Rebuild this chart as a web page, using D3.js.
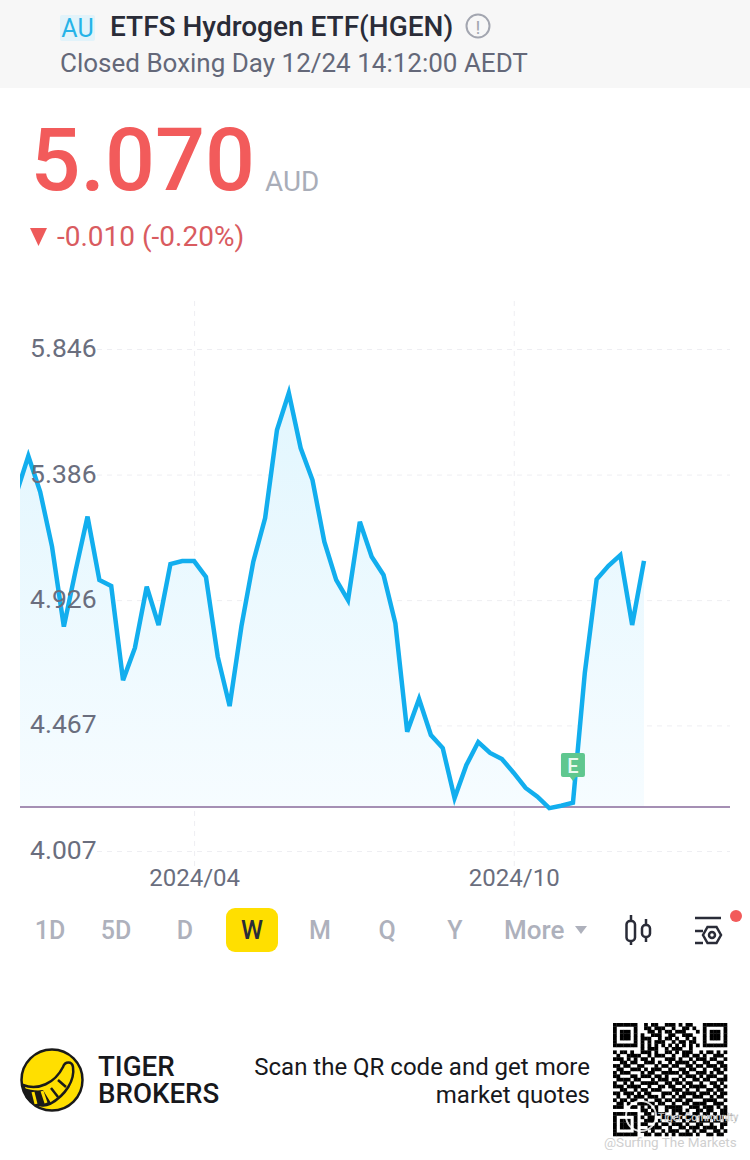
<!DOCTYPE html>
<html>
<head>
<meta charset="utf-8">
<script src="https://cdn.jsdelivr.net/npm/d3@7"></script>
<style>
  body { margin: 0; background: #fff; }
  svg { display: block; }
  text { font-family: Roboto, sans-serif; }
</style>
</head>
<body>
<div id="chart"></div>
<script>
// weekly bars, Monday of each week (the first one sits just off the left edge)
var weeks = [
  "2023-12-18","2023-12-25","2024-01-01","2024-01-08","2024-01-15","2024-01-22","2024-01-29","2024-02-05","2024-02-12",
  "2024-02-19","2024-02-26","2024-03-04","2024-03-11","2024-03-18","2024-03-25","2024-04-01","2024-04-08","2024-04-15",
  "2024-04-22","2024-04-29","2024-05-06","2024-05-13","2024-05-20","2024-05-27","2024-06-03","2024-06-10","2024-06-17",
  "2024-06-24","2024-07-01","2024-07-08","2024-07-15","2024-07-22","2024-07-29","2024-08-05","2024-08-12","2024-08-19",
  "2024-08-26","2024-09-02","2024-09-09","2024-09-16","2024-09-23","2024-09-30","2024-10-07","2024-10-14","2024-10-21",
  "2024-10-28","2024-11-04","2024-11-11","2024-11-18","2024-11-25","2024-12-02","2024-12-09","2024-12-16","2024-12-23"
];
var closes = [
  5.318,5.454,5.323,5.122,4.829,5.036,5.232,5.000,4.978,
  4.633,4.751,4.975,4.835,5.058,5.069,5.069,5.011,4.718,
  4.538,4.831,5.067,5.227,5.549,5.685,5.483,5.366,5.140,
  5.000,4.926,5.213,5.085,5.018,4.841,4.444,4.564,4.432,
  4.384,4.201,4.322,4.406,4.366,4.344,4.293,4.238,4.206,
  4.164,4.173,4.184,4.659,5.002,5.052,5.091,4.835,5.070
];
var priceTicks = [5.846, 5.386, 4.926, 4.467, 4.007];
var dateTicks = ["2024-04-01", "2024-10-07"];
var dateLabels = ["2024/04", "2024/10"];
var lowPrice = 4.168;
var earningsWeek = "2024-11-11";
var periods = ["1D", "5D", "D", "W", "M", "Q", "Y"];
var periodX = [50, 116, 185, 252, 320, 387, 455];
var qrRows = [
  "111111100101100111010110001111111",
  "100000100110111001001101001000001",
  "101110100011010110111000101011101",
  "101110101001110011001110001011101",
  "101110101110010110100101001011101",
  "100000101010111001011011001000001",
  "111111101010101010101010101111111",
  "000000001011100101110010000000000",
  "101101001110100110101110010110101",
  "010011110010111001001101101001110",
  "111010101101000111010010111011001",
  "001101100111010010111101001100110",
  "110110011000101101100110110111011",
  "011001110101110010011011001001101",
  "101110001011001111101100111010110",
  "110001101110110100010111010111001",
  "011110110001011101101001101100111",
  "100101001111100110110110010011010",
  "111011110010011011001011111001101",
  "001100101101110001110100100110110",
  "110111010110001110101111011101011",
  "010010111011101001011001110010110",
  "101101100100110110110110001111001",
  "011010011111011001001101111001110",
  "111001101010100111110011101110101",
  "000000001101100101110100110110011",
  "111111100110111001011001101101011",
  "100000101011001110110111010010110",
  "101110100111010011001011011101101",
  "101110101100101101110100110010011",
  "101110100011110010011011101111010",
  "100000101101001011100101011001101",
  "111111100110110101011110100110110"
];

var svg = d3.select("#chart").append("svg")
  .attr("width", 750)
  .attr("height", 1160);

function label(x, y, str, size, fill, weight, anchor) {
  return svg.append("text")
    .attr("x", x)
    .attr("y", y)
    .attr("font-size", size)
    .attr("fill", fill)
    .attr("font-weight", weight || 400)
    .attr("text-anchor", anchor || "start")
    .text(str);
}

// header
svg.append("rect").attr("width", 750).attr("height", 88).attr("fill", "#f7f7f7");
svg.append("rect").attr("x", 60).attr("y", 15).attr("width", 35).attr("height", 26).attr("rx", 2).attr("fill", "#e2f3fa");
label(77.5, 37, "AU", 25, "#25b3e8", 400, "middle");
label(110, 36, "ETFS Hydrogen ETF(HGEN)", 28, "#2a2c38", 500);
svg.append("circle").attr("cx", 478).attr("cy", 26).attr("r", 11.5).attr("fill", "none").attr("stroke", "#a3a6b0").attr("stroke-width", 2);
label(478, 34, "!", 19, "#a3a6b0", 400, "middle");
label(60, 72, "Closed Boxing Day 12/24 14:12:00 AEDT", 26, "#646879");

// quote
label(30.5, 189.5, "5.070", 88, "#f25b5b", 500);
label(265, 191, "AUD", 27.8, "#a9adb8");
svg.append("path").attr("d", "M30,228H47L38.5,246Z").attr("fill", "#ee5a5a");
label(57, 246, "-0.010 (-0.20%)", 28, "#d95b60");

// chart scales
var x = d3.scalePoint().domain(weeks).range([16.5, 644]);
var y = d3.scaleLinear().domain([4.007, 5.846]).range([851, 349]);

var defs = svg.append("defs");
var fade = defs.append("linearGradient").attr("id", "fade")
  .attr("gradientUnits", "userSpaceOnUse")
  .attr("x1", 0).attr("x2", 0).attr("y1", y(5.685)).attr("y2", y(lowPrice));
fade.append("stop").attr("offset", 0).attr("stop-color", "#e2f6fe");
fade.append("stop").attr("offset", 1).attr("stop-color", "#f6fcff");
defs.append("clipPath").attr("id", "plot").append("rect")
  .attr("x", 20).attr("y", 290).attr("width", 710).attr("height", 580);

// grid
var grid = svg.append("g");
var yGrid = grid.append("g")
  .attr("transform", "translate(97,0)")
  .call(d3.axisRight(y).tickValues(priceTicks).tickSize(633).tickFormat(""));
var xGrid = grid.append("g")
  .attr("transform", "translate(0,866)")
  .call(d3.axisBottom(x).tickValues(dateTicks).tickSize(-568).tickFormat(""));
grid.selectAll(".domain").remove();
grid.selectAll(".tick line")
  .attr("stroke", "#eeeef2")
  .attr("stroke-width", 1)
  .attr("stroke-dasharray", "5,5");

// area and line
var plot = svg.append("g").attr("clip-path", "url(#plot)");
plot.append("path")
  .datum(closes)
  .attr("fill", "url(#fade)")
  .attr("d", d3.area().x((d, i) => x(weeks[i])).y0(y(lowPrice)).y1(d => y(d)));

plot.append("line")
  .attr("x1", 20).attr("x2", 730)
  .attr("y1", y(lowPrice)).attr("y2", y(lowPrice))
  .attr("stroke", "#a58fb4").attr("stroke-width", 2);

// earnings flag
var flag = svg.append("g").attr("transform", `translate(${x(earningsWeek)},753)`);
flag.append("path")
  .attr("d", "M-12,2a2,2 0 0 1 2,-2H10a2,2 0 0 1 2,2V22a2,2 0 0 1 -2,2H3L0,28L-3,24H-10a2,2 0 0 1 -2,-2Z")
  .attr("fill", "#5fc78f");
flag.append("text").attr("y", 20).attr("text-anchor", "middle").attr("font-size", 20).attr("font-weight", 500).attr("fill", "#eafaf1").text("E");

plot.append("path")
  .datum(closes)
  .attr("fill", "none")
  .attr("stroke", "#12aeee")
  .attr("stroke-width", 4.5)
  .attr("stroke-linejoin", "miter")
  .attr("d", d3.line().x((d, i) => x(weeks[i])).y(d => y(d)));

// axis labels go over the line
var yAxis = svg.append("g")
  .attr("transform", "translate(0,-1)")
  .call(d3.axisRight(y).tickValues(priceTicks).tickSize(0).tickPadding(30).tickFormat(d3.format(".3f")));
yAxis.select(".domain").remove();
yAxis.selectAll("text")
  .attr("font-family", "Roboto, sans-serif")
  .attr("font-size", 26.5)
  .attr("fill", "#6a6e7e");

var xAxis = svg.append("g")
  .attr("transform", "translate(0,866)")
  .call(d3.axisBottom(x).tickValues(dateTicks).tickSize(0).tickPadding(3)
    .tickFormat(d => dateLabels[dateTicks.indexOf(d)]));
xAxis.select(".domain").remove();
xAxis.selectAll("text")
  .attr("font-family", "Roboto, sans-serif")
  .attr("font-size", 24)
  .attr("fill", "#6a6e7e");

// period buttons
svg.append("rect").attr("x", 226).attr("y", 908).attr("width", 52).attr("height", 44).attr("rx", 9).attr("fill", "#ffdf00");
periods.forEach(function (p, i) {
  label(periodX[i], 939, p, 25, p == "W" ? "#2a2c38" : "#aeb1bc", 500, "middle");
});
label(504, 939, "More", 26, "#aeb1bc", 500);
svg.append("path").attr("d", "M575,926H587L581,934Z").attr("fill", "#aeb1bc");

// candle icon
var candle = svg.append("g").attr("stroke", "#2a2c38").attr("stroke-width", 2.5).attr("fill", "none");
candle.append("path").attr("d", "M631,915V945M646,919V942");
candle.append("rect").attr("x", 626.5).attr("y", 921).attr("width", 8.5).attr("height", 20).attr("rx", 3.5).attr("fill", "#fff");
candle.append("rect").attr("x", 642).attr("y", 925).attr("width", 8).attr("height", 12).attr("rx", 3.5).attr("fill", "#fff");

// settings icon
var gear = svg.append("g").attr("stroke", "#2a2c38").attr("stroke-width", 2.5).attr("fill", "none");
gear.append("path").attr("d", "M695,918H721M695,931H703M695,943H703");
gear.append("path").attr("d", "M703,935L707.5,927H716.5L721,935L716.5,943H707.5Z");
gear.append("circle").attr("cx", 712).attr("cy", 935).attr("r", 3);
svg.append("circle").attr("cx", 736).attr("cy", 916).attr("r", 6).attr("fill", "#f25b5b");

// footer logo
svg.append("circle").attr("cx", 52).attr("cy", 1080).attr("r", 30.5)
  .attr("fill", "#ffdf00").attr("stroke", "#1a1a1a").attr("stroke-width", 2.5);
svg.append("path")
  .attr("d", "M23,1085C38,1091 55,1083 63,1067C65,1061 72,1061 73,1067C75,1080 66,1095 50,1104C42,1108 33,1104 27,1097Z")
  .attr("fill", "#ffdf00").attr("stroke", "#1a1a1a").attr("stroke-width", 2.5);
svg.append("path")
  .attr("d", "M24,1088C30,1090 37,1091 43,1090L51,1103C44,1109 33,1106 27,1098Z")
  .attr("fill", "#1a1a1a");
svg.append("path")
  .attr("d", "M33,1092L36,1104M42,1091L46,1103")
  .attr("stroke", "#ffdf00").attr("stroke-width", 3).attr("fill", "none");
svg.append("path")
  .attr("d", "M51,1088L58,1097M58,1080L66,1087")
  .attr("stroke", "#1a1a1a").attr("stroke-width", 2.5).attr("fill", "none");
label(98, 1076, "TIGER", 27.7, "#17181c", 500);
label(98, 1103, "BROKERS", 27.7, "#17181c", 500);
label(590, 1075, "Scan the QR code and get more", 24, "#17181c", 400, "end");
label(590, 1103, "market quotes", 24, "#17181c", 400, "end");

// qr code
var qrX = d3.scaleBand().domain(d3.range(33)).range([613, 727]);
var qrY = d3.scaleBand().domain(d3.range(33)).range([1023, 1136]);
var qrCells = [];
qrRows.forEach(function (row, r) {
  row.split("").forEach(function (c, col) {
    if (c == "1") qrCells.push({ r: r, col: col });
  });
});
svg.append("g").attr("fill", "#000").selectAll("rect")
  .data(qrCells)
  .enter()
  .append("rect")
  .attr("x", d => qrX(d.col))
  .attr("y", d => qrY(d.r))
  .attr("width", qrX.bandwidth() + 0.3)
  .attr("height", qrY.bandwidth() + 0.3);

// watermark
svg.append("circle").attr("cx", 641).attr("cy", 1116).attr("r", 15)
  .attr("fill", "none").attr("stroke", "#fff").attr("stroke-width", 2).attr("opacity", 0.85);
label(658, 1121, "Tiger Community", 10.5, "#fff").attr("stroke", "#999").attr("stroke-width", 0.3);
label(604, 1147, "@Surfing The Markets", 13.5, "#cfcfcf");
</script>
</body>
</html>
